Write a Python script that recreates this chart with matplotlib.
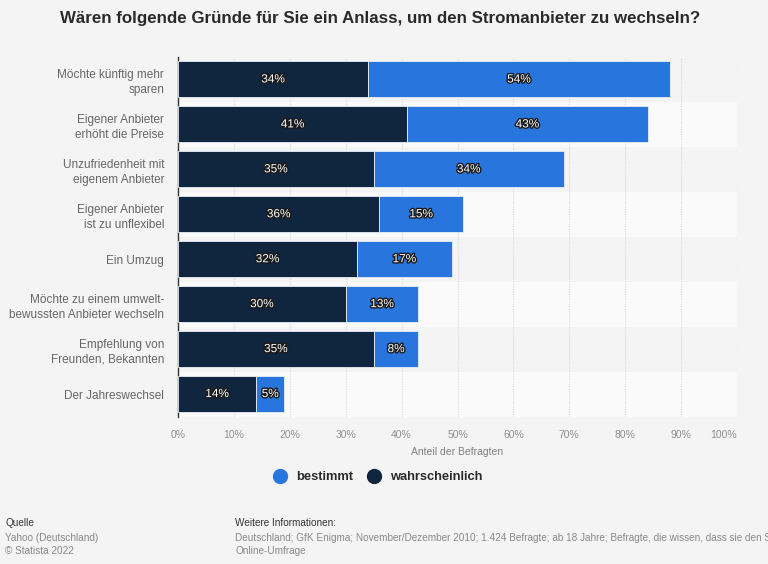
import matplotlib
matplotlib.use("Agg")
import matplotlib.pyplot as plt
import matplotlib.patheffects as pe
from matplotlib.lines import Line2D

plt.rcParams['font.family'] = ['Liberation Sans', 'DejaVu Sans']

categories = [
    "Möchte künftig mehr\nsparen",
    "Eigener Anbieter\nerhöht die Preise",
    "Unzufriedenheit mit\neigenem Anbieter",
    "Eigener Anbieter\nist zu unflexibel",
    "Ein Umzug",
    "Möchte zu einem umwelt-\nbewussten Anbieter wechseln",
    "Empfehlung von\nFreunden, Bekannten",
    "Der Jahreswechsel",
]
wahrscheinlich = [34, 41, 35, 36, 32, 30, 35, 14]
bestimmt = [54, 43, 34, 15, 17, 13, 8, 5]
xticks = [0, 10, 20, 30, 40, 50, 60, 70, 80, 90, 100]
xticklabels = ["0%", "10%", "20%", "30%", "40%", "50%", "60%", "70%", "80%", "90%", "100%"]

c_dark = "#10253e"
c_blue = "#2876dd"
bg = "#f4f4f4"

fig = plt.figure(figsize=(7.68, 5.64), dpi=100, facecolor=bg)
ax = fig.add_axes([178/768, 1-416.5/564, 559/768, 359.5/564])
ax.set_facecolor(bg)

n = len(categories)
ys = list(range(n))
for i in ys:
    if i % 2 == 1:
        ax.axhspan(i-0.5, i+0.5, color="#fafafa", zorder=0, lw=0)

for x in xticks[1:]:
    ax.axvline(x, color="#dedede", lw=0.9, ls=(0, (1, 1)), zorder=1)

h = 0.8
ax.barh(ys, wahrscheinlich, height=h, color=c_dark, edgecolor="#e8eef5", linewidth=0.6, zorder=3)
ax.barh(ys, bestimmt, left=wahrscheinlich, height=h, color=c_blue, edgecolor="#e8eef5", linewidth=0.6, zorder=3)

stroke = [pe.withStroke(linewidth=2.0, foreground="#1a1a1a")]
for i in ys:
    ax.text(wahrscheinlich[i]/2, i, f"{wahrscheinlich[i]}%", ha="center", va="center",
            color="white", fontsize=8.5, zorder=5, path_effects=stroke)
    ax.text(wahrscheinlich[i] + bestimmt[i]/2, i, f"{bestimmt[i]}%", ha="center", va="center",
            color="white", fontsize=8.5, zorder=5, path_effects=stroke)

ax.set_ylim(n-0.5, -0.5)
ax.set_xlim(0, 100)
ax.set_yticks(ys)
ax.set_yticklabels(categories, fontsize=8.5, color="#666666", linespacing=1.35)
ax.tick_params(axis="y", length=0, pad=10)
ax.set_xticks(xticks)
ax.set_xticklabels(xticklabels, fontsize=7.5, color="#909090")
ax.tick_params(axis="x", length=0, pad=10)
for lab in ax.get_xticklabels():
    if lab.get_text() == "100%":
        lab.set_ha("right")
ax.set_xlabel("Anteil der Befragten", fontsize=7.5, color="#808080", labelpad=5)

for s in ["top", "right", "bottom"]:
    ax.spines[s].set_visible(False)
ax.spines["left"].set_color("#333333")
ax.spines["left"].set_linewidth(1.0)

fig.text(380/768, 1-19/564, "Wären folgende Gründe für Sie ein Anlass, um den Stromanbieter zu wechseln?",
         ha="center", va="center", fontsize=12.2, fontweight="bold", color="#2a2a2a")

handles = [
    Line2D([0], [0], marker="o", ls="", markersize=10, markerfacecolor=c_blue, markeredgecolor=c_blue),
    Line2D([0], [0], marker="o", ls="", markersize=10, markerfacecolor=c_dark, markeredgecolor=c_dark),
]
fig.legend(handles, ["bestimmt", "wahrscheinlich"], loc="center", bbox_to_anchor=(375/768, 1-477/564),
           ncol=2, frameon=False, handletextpad=0.25, columnspacing=0.6,
           prop={"weight": "bold", "size": 9.3}, labelcolor="#2a2a2a")

fs = 7.2
fig.text(5/768, 1-523/564, "Quelle", fontsize=fs, color="#333333", va="center")
fig.text(5/768, 1-538/564, "Yahoo (Deutschland)", fontsize=fs, color="#888888", va="center")
fig.text(5/768, 1-551/564, "© Statista 2022", fontsize=fs, color="#888888", va="center")
fig.text(235/768, 1-523/564, "Weitere Informationen:", fontsize=fs, color="#333333", va="center")
fig.text(235/768, 1-538/564,
         "Deutschland; GfK Enigma; November/Dezember 2010; 1.424 Befragte; ab 18 Jahre; Befragte, die wissen, dass sie den Stromanbieter wechseln können",
         fontsize=fs, color="#888888", va="center")
fig.text(235/768, 1-551/564, "Online-Umfrage", fontsize=fs, color="#888888", va="center")

fig.savefig("out.png", dpi=100, facecolor=bg)
